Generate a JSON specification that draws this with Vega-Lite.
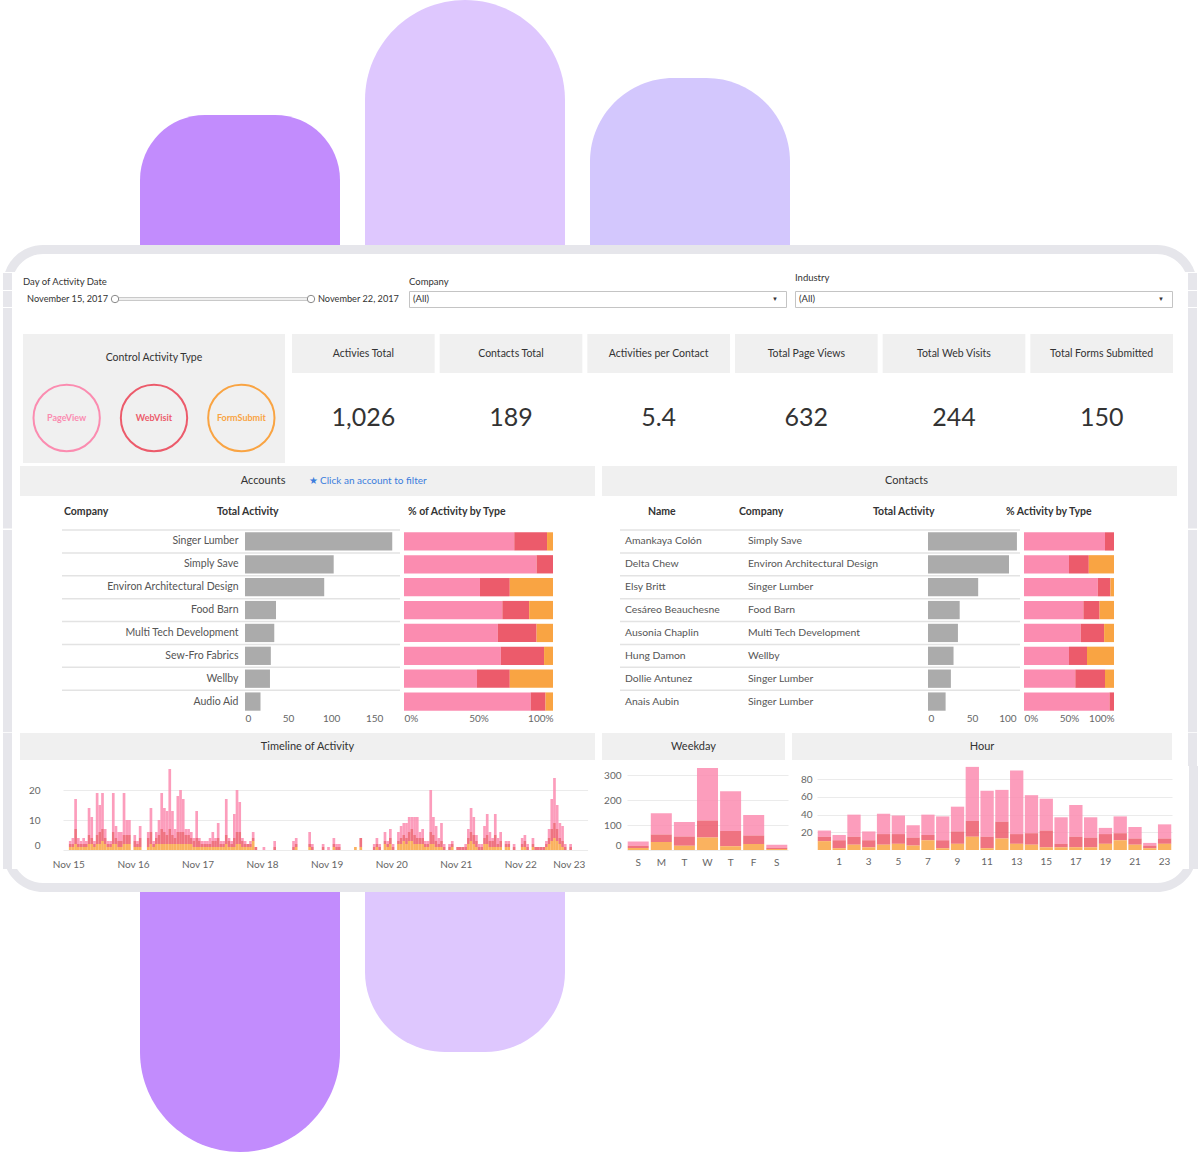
{
  "$schema": "https://vega.github.io/schema/vega-lite/v6.json",
  "padding": 0,
  "background": "white",
  "spacing": 0,
  "config": {
    "font": "Lato",
    "view": {"stroke": null},
    "axis": {"domain": false, "ticks": false, "labelFont": "Lato", "labelFontSize": 10, "labelColor": "#666", "gridColor": "#ebebeb"}
  },
  "datasets": {
    "blank": [{}],
    "card": [{"part": "card"}],
    "types": [
      {"code": "P", "type": "PageView", "k": 1},
      {"code": "W", "type": "WebVisit", "k": 2},
      {"code": "F", "type": "FormSubmit", "k": 3}
    ],
    "decoTop": [{"arch": "A", "h": 130}, {"arch": "B", "h": 245}, {"arch": "C", "h": 167}],
    "decoBottom": [{"arch": "A", "h": 260}, {"arch": "B", "h": 160}],
    "dateRange": [{"from": "2017/11/15", "to": "2017/11/22"}],
    "filters": [{"filter": "Company", "value": "(All)"}, {"filter": "Industry", "value": "(All)"}],
    "kpis": [
      {"label": "Activies Total", "value": 1026},
      {"label": "Contacts Total", "value": 189},
      {"label": "Activities per Contact", "value": 5.4},
      {"label": "Total Page Views", "value": 632},
      {"label": "Total Web Visits", "value": 244},
      {"label": "Total Forms Submitted", "value": 150}
    ],
    "accounts": [
      {"company": "Singer Lumber", "total": 171, "P": 74, "W": 22, "F": 4},
      {"company": "Simply Save", "total": 103, "P": 89, "W": 11, "F": 0},
      {"company": "Environ Architectural Design", "total": 92, "P": 51, "W": 20, "F": 29},
      {"company": "Food Barn", "total": 36, "P": 66, "W": 18, "F": 16},
      {"company": "Multi Tech Development", "total": 34, "P": 63, "W": 26, "F": 11},
      {"company": "Sew-Fro Fabrics", "total": 30, "P": 65, "W": 29, "F": 6},
      {"company": "Wellby", "total": 29, "P": 49, "W": 22, "F": 29},
      {"company": "Audio Aid", "total": 18, "P": 85, "W": 10, "F": 5}
    ],
    "contacts": [
      {"name": "Amankaya Colón", "company": "Simply Save", "total": 101, "P": 90, "W": 10, "F": 0},
      {"name": "Delta Chew", "company": "Environ Architectural Design", "total": 92, "P": 50, "W": 22, "F": 28},
      {"name": "Elsy Britt", "company": "Singer Lumber", "total": 57, "P": 82, "W": 14, "F": 4},
      {"name": "Cesáreo Beauchesne", "company": "Food Barn", "total": 36, "P": 66, "W": 18, "F": 16},
      {"name": "Ausonia Chaplin", "company": "Multi Tech Development", "total": 34, "P": 63, "W": 26, "F": 11},
      {"name": "Hung Damon", "company": "Wellby", "total": 29, "P": 50, "W": 20, "F": 30},
      {"name": "Dollie Antunez", "company": "Singer Lumber", "total": 26, "P": 57, "W": 33, "F": 10},
      {"name": "Anais Aubin", "company": "Singer Lumber", "total": 20, "P": 95, "W": 5, "F": 0}
    ],
    "weekday": [
      {"day": "Sun", "P": 17, "W": 9, "F": 8},
      {"day": "Mon", "P": 85, "W": 30, "F": 32},
      {"day": "Tue", "P": 58, "W": 37, "F": 17},
      {"day": "Wed", "P": 210, "W": 68, "F": 50},
      {"day": "Thu", "P": 159, "W": 61, "F": 15},
      {"day": "Fri", "P": 82, "W": 34, "F": 24},
      {"day": "Sat", "P": 12, "W": 5, "F": 4}
    ],
    "hour": [
      {"hour": 0, "P": 7, "W": 5, "F": 10}, {"hour": 1, "P": 6, "W": 9, "F": 2},
      {"hour": 2, "P": 25, "W": 9, "F": 6}, {"hour": 3, "P": 10, "W": 8, "F": 3},
      {"hour": 4, "P": 23, "W": 12, "F": 6}, {"hour": 5, "P": 21, "W": 11, "F": 7},
      {"hour": 6, "P": 14, "W": 9, "F": 5}, {"hour": 7, "P": 23, "W": 6, "F": 11},
      {"hour": 8, "P": 27, "W": 9, "F": 2}, {"hour": 9, "P": 28, "W": 14, "F": 7},
      {"hour": 10, "P": 61, "W": 18, "F": 15}, {"hour": 11, "P": 52, "W": 13, "F": 2},
      {"hour": 12, "P": 36, "W": 19, "F": 13}, {"hour": 13, "P": 72, "W": 11, "F": 7},
      {"hour": 14, "P": 43, "W": 13, "F": 6}, {"hour": 15, "P": 36, "W": 19, "F": 3},
      {"hour": 16, "P": 30, "W": 4, "F": 3}, {"hour": 17, "P": 36, "W": 12, "F": 3},
      {"hour": 18, "P": 23, "W": 11, "F": 3}, {"hour": 19, "P": 7, "W": 11, "F": 7},
      {"hour": 20, "P": 19, "W": 8, "F": 11}, {"hour": 21, "P": 13, "W": 7, "F": 6},
      {"hour": 22, "P": 3, "W": 3, "F": 2}, {"hour": 23, "P": 16, "W": 6, "F": 7}
    ],
    "timeline": [
      {"t": "2017/11/15 00:00", "P": 1, "W": 1, "F": 1},
      {"t": "2017/11/15 01:00", "P": 2, "W": 1, "F": 1},
      {"t": "2017/11/15 02:00", "P": 10, "W": 5, "F": 2},
      {"t": "2017/11/15 03:00", "P": 2, "W": 1, "F": 1},
      {"t": "2017/11/15 04:00", "P": 1, "W": 1, "F": 1},
      {"t": "2017/11/15 05:00", "P": 2, "W": 1, "F": 1},
      {"t": "2017/11/15 06:00", "P": 1, "W": 1, "F": 1},
      {"t": "2017/11/15 07:00", "P": 9, "W": 3, "F": 2},
      {"t": "2017/11/15 08:00", "P": 7, "W": 2, "F": 2},
      {"t": "2017/11/15 09:00", "P": 1, "W": 1, "F": 1},
      {"t": "2017/11/15 10:00", "P": 14, "W": 3, "F": 2},
      {"t": "2017/11/15 11:00", "P": 9, "W": 4, "F": 2},
      {"t": "2017/11/15 12:00", "P": 12, "W": 4, "F": 3},
      {"t": "2017/11/15 13:00", "P": 3, "W": 2, "F": 2},
      {"t": "2017/11/15 14:00", "P": 1, "W": 1, "F": 1},
      {"t": "2017/11/15 15:00", "P": 1, "W": 1, "F": 1},
      {"t": "2017/11/15 16:00", "P": 13, "W": 4, "F": 2},
      {"t": "2017/11/15 17:00", "P": 4, "W": 2, "F": 2},
      {"t": "2017/11/15 18:00", "P": 3, "W": 2, "F": 1},
      {"t": "2017/11/15 19:00", "P": 3, "W": 2, "F": 1},
      {"t": "2017/11/15 20:00", "P": 14, "W": 3, "F": 2},
      {"t": "2017/11/15 21:00", "P": 5, "W": 3, "F": 2},
      {"t": "2017/11/15 22:00", "P": 5, "W": 3, "F": 2},
      {"t": "2017/11/16 00:00", "P": 2, "W": 2, "F": 1},
      {"t": "2017/11/16 01:00", "P": 1, "W": 1, "F": 1},
      {"t": "2017/11/16 02:00", "P": 4, "W": 3, "F": 1},
      {"t": "2017/11/16 05:00", "P": 2, "W": 3, "F": 1},
      {"t": "2017/11/16 06:00", "P": 8, "W": 4, "F": 2},
      {"t": "2017/11/16 07:00", "P": 1, "W": 1, "F": 1},
      {"t": "2017/11/16 08:00", "P": 2, "W": 2, "F": 2},
      {"t": "2017/11/16 09:00", "P": 5, "W": 3, "F": 2},
      {"t": "2017/11/16 10:00", "P": 12, "W": 5, "F": 2},
      {"t": "2017/11/16 11:00", "P": 8, "W": 4, "F": 2},
      {"t": "2017/11/16 12:00", "P": 8, "W": 3, "F": 2},
      {"t": "2017/11/16 13:00", "P": 20, "W": 5, "F": 2},
      {"t": "2017/11/16 14:00", "P": 8, "W": 3, "F": 2},
      {"t": "2017/11/16 15:00", "P": 3, "W": 2, "F": 2},
      {"t": "2017/11/16 16:00", "P": 12, "W": 4, "F": 2},
      {"t": "2017/11/16 17:00", "P": 14, "W": 4, "F": 2},
      {"t": "2017/11/16 18:00", "P": 11, "W": 4, "F": 2},
      {"t": "2017/11/16 19:00", "P": 2, "W": 3, "F": 2},
      {"t": "2017/11/16 20:00", "P": 2, "W": 3, "F": 2},
      {"t": "2017/11/16 21:00", "P": 2, "W": 2, "F": 2},
      {"t": "2017/11/16 22:00", "P": 1, "W": 2, "F": 1},
      {"t": "2017/11/16 23:00", "P": 9, "W": 3, "F": 1},
      {"t": "2017/11/17 00:00", "P": 1, "W": 2, "F": 1},
      {"t": "2017/11/17 01:00", "P": 1, "W": 1, "F": 1},
      {"t": "2017/11/17 02:00", "P": 1, "W": 1, "F": 1},
      {"t": "2017/11/17 03:00", "P": 1, "W": 1, "F": 1},
      {"t": "2017/11/17 04:00", "P": 2, "W": 1, "F": 1},
      {"t": "2017/11/17 05:00", "P": 3, "W": 2, "F": 1},
      {"t": "2017/11/17 06:00", "P": 1, "W": 2, "F": 1},
      {"t": "2017/11/17 07:00", "P": 5, "W": 3, "F": 1},
      {"t": "2017/11/17 08:00", "P": 1, "W": 1, "F": 1},
      {"t": "2017/11/17 09:00", "P": 1, "W": 1, "F": 1},
      {"t": "2017/11/17 10:00", "P": 12, "W": 3, "F": 2},
      {"t": "2017/11/17 11:00", "P": 1, "W": 2, "F": 1},
      {"t": "2017/11/17 12:00", "P": 1, "W": 1, "F": 1},
      {"t": "2017/11/17 13:00", "P": 8, "W": 3, "F": 1},
      {"t": "2017/11/17 14:00", "P": 14, "W": 4, "F": 2},
      {"t": "2017/11/17 15:00", "P": 10, "W": 4, "F": 2},
      {"t": "2017/11/17 16:00", "P": 1, "W": 2, "F": 1},
      {"t": "2017/11/17 17:00", "P": 1, "W": 1, "F": 1},
      {"t": "2017/11/17 18:00", "P": 0, "W": 1, "F": 1},
      {"t": "2017/11/17 19:00", "P": 1, "W": 1, "F": 1},
      {"t": "2017/11/17 20:00", "P": 2, "W": 1, "F": 3},
      {"t": "2017/11/17 21:00", "P": 0, "W": 1, "F": 0},
      {"t": "2017/11/18 00:00", "P": 1, "W": 0, "F": 0},
      {"t": "2017/11/18 04:00", "P": 2, "W": 1, "F": 0},
      {"t": "2017/11/18 11:00", "P": 2, "W": 1, "F": 0},
      {"t": "2017/11/18 12:00", "P": 2, "W": 1, "F": 1},
      {"t": "2017/11/18 17:00", "P": 4, "W": 1, "F": 1},
      {"t": "2017/11/18 18:00", "P": 1, "W": 1, "F": 0},
      {"t": "2017/11/18 22:00", "P": 1, "W": 1, "F": 0},
      {"t": "2017/11/19 00:00", "P": 1, "W": 0, "F": 0},
      {"t": "2017/11/19 02:00", "P": 2, "W": 1, "F": 1},
      {"t": "2017/11/19 03:00", "P": 1, "W": 1, "F": 0},
      {"t": "2017/11/19 04:00", "P": 1, "W": 1, "F": 0},
      {"t": "2017/11/19 10:00", "P": 0, "W": 0, "F": 1},
      {"t": "2017/11/19 12:00", "P": 0, "W": 3, "F": 1},
      {"t": "2017/11/19 17:00", "P": 1, "W": 1, "F": 0},
      {"t": "2017/11/19 18:00", "P": 2, "W": 1, "F": 1},
      {"t": "2017/11/19 19:00", "P": 1, "W": 1, "F": 0},
      {"t": "2017/11/19 21:00", "P": 3, "W": 1, "F": 2},
      {"t": "2017/11/19 22:00", "P": 1, "W": 1, "F": 1},
      {"t": "2017/11/19 23:00", "P": 3, "W": 2, "F": 2},
      {"t": "2017/11/20 00:00", "P": 1, "W": 1, "F": 0},
      {"t": "2017/11/20 02:00", "P": 3, "W": 1, "F": 2},
      {"t": "2017/11/20 03:00", "P": 4, "W": 2, "F": 2},
      {"t": "2017/11/20 04:00", "P": 4, "W": 2, "F": 3},
      {"t": "2017/11/20 05:00", "P": 5, "W": 2, "F": 2},
      {"t": "2017/11/20 06:00", "P": 5, "W": 3, "F": 3},
      {"t": "2017/11/20 07:00", "P": 4, "W": 4, "F": 3},
      {"t": "2017/11/20 08:00", "P": 6, "W": 3, "F": 2},
      {"t": "2017/11/20 09:00", "P": 7, "W": 2, "F": 2},
      {"t": "2017/11/20 10:00", "P": 2, "W": 2, "F": 2},
      {"t": "2017/11/20 11:00", "P": 3, "W": 2, "F": 2},
      {"t": "2017/11/20 12:00", "P": 1, "W": 1, "F": 1},
      {"t": "2017/11/20 13:00", "P": 1, "W": 1, "F": 1},
      {"t": "2017/11/20 14:00", "P": 14, "W": 4, "F": 2},
      {"t": "2017/11/20 15:00", "P": 6, "W": 3, "F": 2},
      {"t": "2017/11/20 16:00", "P": 5, "W": 2, "F": 1},
      {"t": "2017/11/20 17:00", "P": 2, "W": 1, "F": 1},
      {"t": "2017/11/20 18:00", "P": 6, "W": 2, "F": 1},
      {"t": "2017/11/20 19:00", "P": 1, "W": 1, "F": 0},
      {"t": "2017/11/20 21:00", "P": 1, "W": 1, "F": 0},
      {"t": "2017/11/20 22:00", "P": 1, "W": 1, "F": 1},
      {"t": "2017/11/21 00:00", "P": 0, "W": 1, "F": 0},
      {"t": "2017/11/21 01:00", "P": 0, "W": 1, "F": 0},
      {"t": "2017/11/21 02:00", "P": 0, "W": 1, "F": 0},
      {"t": "2017/11/21 03:00", "P": 1, "W": 1, "F": 0},
      {"t": "2017/11/21 04:00", "P": 3, "W": 2, "F": 2},
      {"t": "2017/11/21 05:00", "P": 8, "W": 3, "F": 3},
      {"t": "2017/11/21 06:00", "P": 6, "W": 3, "F": 2},
      {"t": "2017/11/21 07:00", "P": 2, "W": 2, "F": 1},
      {"t": "2017/11/21 08:00", "P": 1, "W": 1, "F": 0},
      {"t": "2017/11/21 09:00", "P": 1, "W": 1, "F": 0},
      {"t": "2017/11/21 10:00", "P": 4, "W": 2, "F": 2},
      {"t": "2017/11/21 11:00", "P": 7, "W": 3, "F": 2},
      {"t": "2017/11/21 12:00", "P": 3, "W": 2, "F": 1},
      {"t": "2017/11/21 13:00", "P": 1, "W": 2, "F": 1},
      {"t": "2017/11/21 14:00", "P": 7, "W": 4, "F": 1},
      {"t": "2017/11/21 15:00", "P": 2, "W": 1, "F": 1},
      {"t": "2017/11/21 16:00", "P": 3, "W": 2, "F": 1},
      {"t": "2017/11/21 18:00", "P": 1, "W": 1, "F": 1},
      {"t": "2017/11/21 19:00", "P": 1, "W": 1, "F": 1},
      {"t": "2017/11/21 21:00", "P": 1, "W": 1, "F": 0},
      {"t": "2017/11/22 00:00", "P": 2, "W": 1, "F": 1},
      {"t": "2017/11/22 01:00", "P": 2, "W": 2, "F": 1},
      {"t": "2017/11/22 02:00", "P": 1, "W": 1, "F": 0},
      {"t": "2017/11/22 04:00", "P": 2, "W": 1, "F": 1},
      {"t": "2017/11/22 05:00", "P": 0, "W": 1, "F": 0},
      {"t": "2017/11/22 06:00", "P": 0, "W": 1, "F": 0},
      {"t": "2017/11/22 07:00", "P": 0, "W": 1, "F": 0},
      {"t": "2017/11/22 08:00", "P": 0, "W": 1, "F": 0},
      {"t": "2017/11/22 09:00", "P": 1, "W": 1, "F": 1},
      {"t": "2017/11/22 10:00", "P": 3, "W": 2, "F": 2},
      {"t": "2017/11/22 11:00", "P": 10, "W": 4, "F": 3},
      {"t": "2017/11/22 12:00", "P": 15, "W": 5, "F": 4},
      {"t": "2017/11/22 13:00", "P": 8, "W": 4, "F": 3},
      {"t": "2017/11/22 14:00", "P": 5, "W": 2, "F": 2},
      {"t": "2017/11/22 15:00", "P": 5, "W": 2, "F": 1},
      {"t": "2017/11/22 16:00", "P": 1, "W": 1, "F": 0},
      {"t": "2017/11/22 18:00", "P": 1, "W": 1, "F": 0}
    ]
  },
  "vconcat": [
    {
      "width": 1200, "height": 272,
      "resolve": {"scale": {"x": "independent"}},
      "layer": [
        {
          "data": {"name": "decoTop"},
          "mark": {"type": "bar", "cornerRadiusTopLeft": 100, "cornerRadiusTopRight": 100},
          "encoding": {
            "x": {"field": "arch", "type": "nominal", "axis": null, "scale": {"domain": ["A", "B", "C"], "range": [140, 790], "paddingInner": 0.1111, "paddingOuter": 0}},
            "y": {"field": "h", "type": "quantitative", "axis": null, "scale": {"domain": [-27, 245], "nice": false}},
            "fill": {"field": "arch", "type": "nominal", "legend": null, "scale": {"domain": ["A", "B", "C"], "range": ["#c28cfd", "#dec7fe", "#d3c7fd"]}}
          }
        },
        {
          "data": {"name": "card"},
          "mark": {"type": "rect", "color": "#e6e6eb", "cornerRadiusTopLeft": 40, "cornerRadiusTopRight": 40, "clip": true},
          "encoding": {
            "x": {"field": "part", "type": "nominal", "axis": null, "scale": {"type": "band", "paddingInner": 0, "paddingOuter": 0.0025126}},
            "y": {"datum": 0, "type": "quantitative"},
            "y2": {"datum": -80}
          }
        },
        {
          "data": {"name": "card"},
          "mark": {"type": "rect", "color": "white", "cornerRadiusTopLeft": 31, "cornerRadiusTopRight": 31, "clip": true},
          "encoding": {
            "x": {"field": "part", "type": "nominal", "axis": null, "scale": {"type": "band", "paddingInner": 0, "paddingOuter": 0.010204}},
            "y": {"datum": -9, "type": "quantitative"},
            "y2": {"datum": -80}
          }
        }
      ]
    },
    {
      "hconcat": [
        {"width": 3, "height": 1, "data": {"name": "blank"}, "mark": {"type": "point", "size": 0, "strokeWidth": 0, "opacity": 0}},
        {"width": 9, "height": 17, "view": {"fill": "#e6e6eb"}, "data": {"name": "blank"}, "mark": {"type": "point", "size": 0, "strokeWidth": 0, "opacity": 0}},
        {"width": 11, "height": 1, "data": {"name": "blank"}, "mark": {"type": "point", "size": 0, "strokeWidth": 0, "opacity": 0}},
        {"width": 386, "height": 17, "data": {"name": "blank"}, "mark": {"type": "text", "text": "Day of Activity Date", "align": "left", "fontSize": 9.5, "color": "#333"}, "encoding": {"x": {"value": 0}}},
        {"width": 386, "height": 17, "data": {"name": "blank"}, "mark": {"type": "text", "text": "Company", "align": "left", "fontSize": 9.5, "color": "#333"}, "encoding": {"x": {"value": 0}}},
        {"width": 377, "height": 17, "data": {"name": "blank"}, "mark": {"type": "text", "text": "Industry", "align": "left", "fontSize": 9.5, "color": "#333", "dy": -4}, "encoding": {"x": {"value": 0}}},
        {"width": 16, "height": 1, "data": {"name": "blank"}, "mark": {"type": "point", "size": 0, "strokeWidth": 0, "opacity": 0}},
        {"width": 9, "height": 17, "view": {"fill": "#e6e6eb"}, "data": {"name": "blank"}, "mark": {"type": "point", "size": 0, "strokeWidth": 0, "opacity": 0}}
      ],
      "spacing": 0, "bounds": "flush"
    },
    {
      "hconcat": [
        {"width": 3, "height": 1, "data": {"name": "blank"}, "mark": {"type": "point", "size": 0, "strokeWidth": 0, "opacity": 0}},
        {"width": 9, "height": 16, "view": {"fill": "#e6e6eb"}, "data": {"name": "blank"}, "mark": {"type": "point", "size": 0, "strokeWidth": 0, "opacity": 0}},
        {"width": 11, "height": 1, "data": {"name": "blank"}, "mark": {"type": "point", "size": 0, "strokeWidth": 0, "opacity": 0}},
        {
          "width": 377, "height": 16,
          "data": {"name": "dateRange"},
          "layer": [
            {"mark": {"type": "rule", "color": "#c9c9c9", "strokeWidth": 4},
             "encoding": {"x": {"field": "from", "type": "temporal", "axis": null, "scale": {"range": [92, 288]}}, "x2": {"field": "to"}}},
            {"mark": {"type": "rule", "color": "#efefef", "strokeWidth": 2},
             "encoding": {"x": {"field": "from", "type": "temporal", "axis": null}, "x2": {"field": "to"}}},
            {"mark": {"type": "point", "shape": "circle", "filled": true, "color": "white", "stroke": "#8a8a8a", "strokeWidth": 1, "size": 55, "opacity": 1},
             "encoding": {"x": {"field": "from", "type": "temporal", "axis": null}}},
            {"mark": {"type": "point", "shape": "circle", "filled": true, "color": "white", "stroke": "#8a8a8a", "strokeWidth": 1, "size": 55, "opacity": 1},
             "encoding": {"x": {"field": "to", "type": "temporal", "axis": null}}},
            {"mark": {"type": "text", "align": "right", "dx": -7, "fontSize": 9.2, "color": "#333"},
             "encoding": {"x": {"field": "from", "type": "temporal", "axis": null}, "text": {"field": "from", "type": "temporal", "format": "%B %d, %Y"}}},
            {"mark": {"type": "text", "align": "left", "dx": 7, "fontSize": 9.2, "color": "#333"},
             "encoding": {"x": {"field": "to", "type": "temporal", "axis": null}, "text": {"field": "to", "type": "temporal", "format": "%B %d, %Y"}}}
          ]
        },
        {"width": 9, "height": 1, "data": {"name": "blank"}, "mark": {"type": "point", "size": 0, "strokeWidth": 0, "opacity": 0}},
        {
          "width": 377, "height": 16,
          "view": {"stroke": "#c4c4c4", "fill": "white"},
          "data": {"name": "filters"},
          "transform": [{"filter": "datum.filter == 'Company'"}],
          "layer": [
            {"mark": {"type": "text", "align": "left", "dx": 4, "fontSize": 9.5, "color": "#333"},
             "encoding": {"x": {"datum": 0, "type": "quantitative", "axis": null, "scale": {"domain": [0, 1]}}, "text": {"field": "value"}}},
            {"mark": {"type": "text", "align": "right", "dx": -8, "fontSize": 6, "color": "#333", "text": "▼"},
             "encoding": {"x": {"datum": 1, "type": "quantitative", "axis": null}}}
          ]
        },
        {"width": 9, "height": 1, "data": {"name": "blank"}, "mark": {"type": "point", "size": 0, "strokeWidth": 0, "opacity": 0}},
        {
          "width": 377, "height": 16,
          "view": {"stroke": "#c4c4c4", "fill": "white"},
          "data": {"name": "filters"},
          "transform": [{"filter": "datum.filter == 'Industry'"}],
          "layer": [
            {"mark": {"type": "text", "align": "left", "dx": 4, "fontSize": 9.5, "color": "#333"},
             "encoding": {"x": {"datum": 0, "type": "quantitative", "axis": null, "scale": {"domain": [0, 1]}}, "text": {"field": "value"}}},
            {"mark": {"type": "text", "align": "right", "dx": -8, "fontSize": 6, "color": "#333", "text": "▼"},
             "encoding": {"x": {"datum": 1, "type": "quantitative", "axis": null}}}
          ]
        },
        {"width": 16, "height": 1, "data": {"name": "blank"}, "mark": {"type": "point", "size": 0, "strokeWidth": 0, "opacity": 0}},
        {"width": 9, "height": 16, "view": {"fill": "#e6e6eb"}, "data": {"name": "blank"}, "mark": {"type": "point", "size": 0, "strokeWidth": 0, "opacity": 0}}
      ],
      "spacing": 0, "bounds": "flush"
    },
    {
      "hconcat": [
        {"width": 3, "height": 1, "data": {"name": "blank"}, "mark": {"type": "point", "size": 0, "strokeWidth": 0, "opacity": 0}},
        {"width": 9, "height": 26, "view": {"fill": "#e6e6eb"}, "data": {"name": "blank"}, "mark": {"type": "point", "size": 0, "strokeWidth": 0, "opacity": 0}},
        {"width": 1176, "height": 1, "data": {"name": "blank"}, "mark": {"type": "point", "size": 0, "strokeWidth": 0, "opacity": 0}},
        {"width": 9, "height": 26, "view": {"fill": "#e6e6eb"}, "data": {"name": "blank"}, "mark": {"type": "point", "size": 0, "strokeWidth": 0, "opacity": 0}}
      ],
      "spacing": 0, "bounds": "flush"
    },
    {
      "hconcat": [
        {"width": 3, "height": 1, "data": {"name": "blank"}, "mark": {"type": "point", "size": 0, "strokeWidth": 0, "opacity": 0}},
        {"width": 9, "height": 39, "view": {"fill": "#e6e6eb"}, "data": {"name": "blank"}, "mark": {"type": "point", "size": 0, "strokeWidth": 0, "opacity": 0}},
        {"width": 11, "height": 1, "data": {"name": "blank"}, "mark": {"type": "point", "size": 0, "strokeWidth": 0, "opacity": 0}},
        {"width": 262, "height": 39, "view": {"fill": "#f0f0f0"}, "data": {"name": "blank"},
         "mark": {"type": "text", "text": "Control Activity Type", "fontSize": 10.5, "color": "#333", "dy": 4}},
        {"width": 7, "height": 1, "data": {"name": "blank"}, "mark": {"type": "point", "size": 0, "strokeWidth": 0, "opacity": 0}},
        {
          "width": 881, "height": 39, "data": {"name": "kpis"},
          "layer": [
            {"mark": {"type": "rect", "color": "#f0f0f0"},
             "encoding": {"x": {"field": "label", "type": "nominal", "sort": null, "axis": null, "scale": {"type": "band", "paddingInner": 0.0339, "paddingOuter": 0}}}},
            {"mark": {"type": "text", "fontSize": 10.5, "color": "#333"},
             "encoding": {"x": {"field": "label", "type": "nominal", "sort": null, "axis": null}, "text": {"field": "label"}}}
          ]
        },
        {"width": 15, "height": 1, "data": {"name": "blank"}, "mark": {"type": "point", "size": 0, "strokeWidth": 0, "opacity": 0}},
        {"width": 9, "height": 39, "view": {"fill": "#e6e6eb"}, "data": {"name": "blank"}, "mark": {"type": "point", "size": 0, "strokeWidth": 0, "opacity": 0}}
      ],
      "spacing": 0, "bounds": "flush"
    },
    {
      "hconcat": [
        {"width": 3, "height": 1, "data": {"name": "blank"}, "mark": {"type": "point", "size": 0, "strokeWidth": 0, "opacity": 0}},
        {"width": 9, "height": 90, "view": {"fill": "#e6e6eb"}, "data": {"name": "blank"}, "mark": {"type": "point", "size": 0, "strokeWidth": 0, "opacity": 0}},
        {"width": 11, "height": 1, "data": {"name": "blank"}, "mark": {"type": "point", "size": 0, "strokeWidth": 0, "opacity": 0}},
        {
          "width": 262, "height": 90, "view": {"fill": "#f0f0f0"},
          "data": {"name": "types"},
          "layer": [
            {"mark": {"type": "point", "shape": "circle", "filled": false, "size": 4400, "strokeWidth": 2, "opacity": 1},
             "encoding": {
               "x": {"field": "type", "type": "nominal", "sort": null, "axis": null, "scale": {"type": "band", "paddingInner": 0, "paddingOuter": 0}},
               "color": {"field": "type", "type": "nominal", "legend": null, "scale": {"domain": ["PageView", "WebVisit", "FormSubmit"], "range": ["#fb8cb0", "#ec5b6b", "#f9a443"]}}
             }},
            {"mark": {"type": "text", "fontSize": 9, "fontWeight": "bold"},
             "encoding": {
               "x": {"field": "type", "type": "nominal", "sort": null, "axis": null},
               "text": {"field": "type"},
               "color": {"field": "type", "type": "nominal", "legend": null, "scale": {"domain": ["PageView", "WebVisit", "FormSubmit"], "range": ["#fb8cb0", "#ec5b6b", "#f9a443"]}}
             }}
          ]
        },
        {"width": 7, "height": 1, "data": {"name": "blank"}, "mark": {"type": "point", "size": 0, "strokeWidth": 0, "opacity": 0}},
        {
          "width": 881, "height": 90, "data": {"name": "kpis"},
          "mark": {"type": "text", "fontSize": 25, "color": "#333"},
          "encoding": {
            "x": {"field": "label", "type": "nominal", "sort": null, "axis": null, "scale": {"type": "band", "paddingInner": 0.0339, "paddingOuter": 0}},
            "text": {"field": "value", "type": "quantitative", "format": ","}
          }
        },
        {"width": 15, "height": 1, "data": {"name": "blank"}, "mark": {"type": "point", "size": 0, "strokeWidth": 0, "opacity": 0}},
        {"width": 9, "height": 90, "view": {"fill": "#e6e6eb"}, "data": {"name": "blank"}, "mark": {"type": "point", "size": 0, "strokeWidth": 0, "opacity": 0}}
      ],
      "spacing": 0, "bounds": "flush"
    },
    {
      "hconcat": [
        {"width": 3, "height": 1, "data": {"name": "blank"}, "mark": {"type": "point", "size": 0, "strokeWidth": 0, "opacity": 0}},
        {"width": 9, "height": 3, "view": {"fill": "#e6e6eb"}, "data": {"name": "blank"}, "mark": {"type": "point", "size": 0, "strokeWidth": 0, "opacity": 0}},
        {"width": 1176, "height": 1, "data": {"name": "blank"}, "mark": {"type": "point", "size": 0, "strokeWidth": 0, "opacity": 0}},
        {"width": 9, "height": 3, "view": {"fill": "#e6e6eb"}, "data": {"name": "blank"}, "mark": {"type": "point", "size": 0, "strokeWidth": 0, "opacity": 0}}
      ],
      "spacing": 0, "bounds": "flush"
    },
    {
      "hconcat": [
        {"width": 3, "height": 1, "data": {"name": "blank"}, "mark": {"type": "point", "size": 0, "strokeWidth": 0, "opacity": 0}},
        {"width": 9, "height": 30, "view": {"fill": "#e6e6eb"}, "data": {"name": "blank"}, "mark": {"type": "point", "size": 0, "strokeWidth": 0, "opacity": 0}},
        {"width": 8, "height": 1, "data": {"name": "blank"}, "mark": {"type": "point", "size": 0, "strokeWidth": 0, "opacity": 0}},
        {"width": 575, "height": 30, "view": {"fill": "#f0f0f0"}, "data": {"name": "blank"},
         "layer": [
           {"mark": {"type": "text", "text": "Accounts", "align": "right", "dx": -22, "fontSize": 11, "color": "#333"}},
           {"mark": {"type": "text", "text": "★ Click an account to filter", "align": "left", "dx": 1, "fontSize": 10, "color": "#3b7ddd"}}
         ]},
        {"width": 7, "height": 1, "data": {"name": "blank"}, "mark": {"type": "point", "size": 0, "strokeWidth": 0, "opacity": 0}},
        {"width": 575, "height": 30, "view": {"fill": "#f0f0f0"}, "data": {"name": "blank"},
         "mark": {"type": "text", "text": "Contacts", "dx": 17, "fontSize": 11, "color": "#333"}},
        {"width": 11, "height": 1, "data": {"name": "blank"}, "mark": {"type": "point", "size": 0, "strokeWidth": 0, "opacity": 0}},
        {"width": 9, "height": 30, "view": {"fill": "#e6e6eb"}, "data": {"name": "blank"}, "mark": {"type": "point", "size": 0, "strokeWidth": 0, "opacity": 0}}
      ],
      "spacing": 0, "bounds": "flush"
    },
    {
      "hconcat": [
        {"width": 3, "height": 1, "data": {"name": "blank"}, "mark": {"type": "point", "size": 0, "strokeWidth": 0, "opacity": 0}},
        {"width": 9, "height": 32.5, "view": {"fill": "#e6e6eb"}, "data": {"name": "blank"}, "mark": {"type": "point", "size": 0, "strokeWidth": 0, "opacity": 0}},
        {"width": 52, "height": 1, "data": {"name": "blank"}, "mark": {"type": "point", "size": 0, "strokeWidth": 0, "opacity": 0}},
        {"width": 153, "height": 32.5, "data": {"name": "blank"}, "mark": {"type": "text", "text": "Company", "align": "left", "fontSize": 10.5, "fontWeight": "bold", "color": "#333"}, "encoding": {"x": {"value": 0}}},
        {"width": 191, "height": 32.5, "data": {"name": "blank"}, "mark": {"type": "text", "text": "Total Activity", "align": "left", "fontSize": 10.5, "fontWeight": "bold", "color": "#333"}, "encoding": {"x": {"value": 0}}},
        {"width": 240, "height": 32.5, "data": {"name": "blank"}, "mark": {"type": "text", "text": "% of Activity by Type", "align": "left", "fontSize": 10.5, "fontWeight": "bold", "color": "#333"}, "encoding": {"x": {"value": 0}}},
        {"width": 91, "height": 32.5, "data": {"name": "blank"}, "mark": {"type": "text", "text": "Name", "align": "left", "fontSize": 10.5, "fontWeight": "bold", "color": "#333"}, "encoding": {"x": {"value": 0}}},
        {"width": 134, "height": 32.5, "data": {"name": "blank"}, "mark": {"type": "text", "text": "Company", "align": "left", "fontSize": 10.5, "fontWeight": "bold", "color": "#333"}, "encoding": {"x": {"value": 0}}},
        {"width": 133, "height": 32.5, "data": {"name": "blank"}, "mark": {"type": "text", "text": "Total Activity", "align": "left", "fontSize": 10.5, "fontWeight": "bold", "color": "#333"}, "encoding": {"x": {"value": 0}}},
        {"width": 100, "height": 32.5, "data": {"name": "blank"}, "mark": {"type": "text", "text": "% Activity by Type", "align": "left", "fontSize": 10.5, "fontWeight": "bold", "color": "#333"}, "encoding": {"x": {"value": 0}}},
        {"width": 82, "height": 1, "data": {"name": "blank"}, "mark": {"type": "point", "size": 0, "strokeWidth": 0, "opacity": 0}},
        {"width": 9, "height": 32.5, "view": {"fill": "#e6e6eb"}, "data": {"name": "blank"}, "mark": {"type": "point", "size": 0, "strokeWidth": 0, "opacity": 0}}
      ],
      "spacing": 0, "bounds": "flush"
    },
    {
      "hconcat": [
        {"width": 3, "height": 1, "data": {"name": "blank"}, "mark": {"type": "point", "size": 0, "strokeWidth": 0, "opacity": 0}},
        {"width": 9, "height": 196, "view": {"fill": "#e6e6eb"}, "data": {"name": "blank"}, "mark": {"type": "point", "size": 0, "strokeWidth": 0, "opacity": 0}},
        {"width": 50, "height": 1, "data": {"name": "blank"}, "mark": {"type": "point", "size": 0, "strokeWidth": 0, "opacity": 0}},
        {
          "width": 183, "height": 183, "data": {"name": "accounts"},
          "mark": {"type": "rule", "color": "#e3e3e3", "strokeWidth": 1.5},
          "encoding": {"y": {"field": "company", "type": "nominal", "sort": null, "bandPosition": 0, "axis": null, "scale": {"type": "band", "paddingInner": 0, "paddingOuter": 0}}}
        },
        {
          "width": 155, "height": 183, "data": {"name": "accounts"},
          "layer": [
            {"mark": {"type": "rule", "color": "#e3e3e3", "strokeWidth": 1.5},
             "encoding": {"y": {"field": "company", "type": "nominal", "sort": null, "bandPosition": 0, "scale": {"type": "band", "paddingInner": 0, "paddingOuter": 0},
                                "axis": {"title": null, "labelPadding": 7, "labelFontSize": 10.5, "labelColor": "#555", "labelLimit": 220}}}},
            {"mark": {"type": "bar", "color": "#ababab", "height": {"band": 0.8}},
             "encoding": {
               "y": {"field": "company", "type": "nominal", "sort": null, "axis": {"title": null, "labelPadding": 7, "labelFontSize": 10.5, "labelColor": "#555", "labelLimit": 220}},
               "x": {"field": "total", "type": "quantitative", "scale": {"domain": [0, 180], "nice": false}, "axis": {"title": null, "values": [0, 50, 100, 150], "grid": false, "labelPadding": 0}}
             }}
          ]
        },
        {"width": 4, "height": 1, "data": {"name": "blank"}, "mark": {"type": "point", "size": 0, "strokeWidth": 0, "opacity": 0}},
        {
          "width": 149, "height": 183, "data": {"name": "accounts"},
          "transform": [
            {"fold": ["P", "W", "F"], "as": ["code", "n"]},
            {"lookup": "code", "from": {"data": {"name": "types"}, "key": "code", "fields": ["type", "k"]}}
          ],
          "mark": {"type": "bar", "height": {"band": 0.8}},
          "encoding": {
            "y": {"field": "company", "type": "nominal", "sort": null, "axis": null, "scale": {"paddingInner": 0, "paddingOuter": 0}},
            "x": {"field": "n", "type": "quantitative", "stack": "normalize", "axis": {"title": null, "values": [0, 0.5, 1], "format": "%", "labelFlush": true, "grid": false, "labelPadding": 0}},
            "color": {"field": "type", "type": "nominal", "legend": null, "scale": {"domain": ["PageView", "WebVisit", "FormSubmit"], "range": ["#fb8cb0", "#ec5b6b", "#f9a443"]}},
            "order": {"field": "k", "type": "quantitative", "sort": "ascending"}
          }
        },
        {"width": 67, "height": 1, "data": {"name": "blank"}, "mark": {"type": "point", "size": 0, "strokeWidth": 0, "opacity": 0}},
        {
          "width": 115, "height": 183, "data": {"name": "contacts"},
          "layer": [
            {"mark": {"type": "rule", "color": "#e3e3e3", "strokeWidth": 1.5},
             "encoding": {"y": {"field": "name", "type": "nominal", "sort": null, "bandPosition": 0, "axis": null, "scale": {"type": "band", "paddingInner": 0, "paddingOuter": 0}}}},
            {"mark": {"type": "text", "align": "left", "dx": 5, "fontSize": 10.4, "color": "#555"},
             "encoding": {"y": {"field": "name", "type": "nominal", "sort": null, "axis": null}, "x": {"value": 0}, "text": {"field": "name"}}}
          ]
        },
        {
          "width": 193, "height": 183, "data": {"name": "contacts"},
          "layer": [
            {"mark": {"type": "rule", "color": "#e3e3e3", "strokeWidth": 1.5},
             "encoding": {"y": {"field": "name", "type": "nominal", "sort": null, "bandPosition": 0, "axis": null, "scale": {"type": "band", "paddingInner": 0, "paddingOuter": 0}}}},
            {"mark": {"type": "text", "align": "left", "dx": 13, "fontSize": 10.4, "color": "#555"},
             "encoding": {"y": {"field": "name", "type": "nominal", "sort": null, "axis": null}, "x": {"value": 0}, "text": {"field": "company"}}}
          ]
        },
        {
          "width": 92, "height": 183, "data": {"name": "contacts"},
          "layer": [
            {"mark": {"type": "rule", "color": "#e3e3e3", "strokeWidth": 1.5},
             "encoding": {"y": {"field": "name", "type": "nominal", "sort": null, "bandPosition": 0, "axis": null, "scale": {"type": "band", "paddingInner": 0, "paddingOuter": 0}}}},
            {"mark": {"type": "bar", "color": "#ababab", "height": {"band": 0.8}},
             "encoding": {
               "y": {"field": "name", "type": "nominal", "sort": null, "axis": null},
               "x": {"field": "total", "type": "quantitative", "scale": {"domain": [0, 104.5], "nice": false}, "axis": {"title": null, "values": [0, 50, 100], "grid": false, "labelFlush": 5, "labelPadding": 0}}
             }}
          ]
        },
        {"width": 4, "height": 1, "data": {"name": "blank"}, "mark": {"type": "point", "size": 0, "strokeWidth": 0, "opacity": 0}},
        {
          "width": 90, "height": 183, "data": {"name": "contacts"},
          "transform": [
            {"fold": ["P", "W", "F"], "as": ["code", "n"]},
            {"lookup": "code", "from": {"data": {"name": "types"}, "key": "code", "fields": ["type", "k"]}}
          ],
          "mark": {"type": "bar", "height": {"band": 0.8}},
          "encoding": {
            "y": {"field": "name", "type": "nominal", "sort": null, "axis": null, "scale": {"paddingInner": 0, "paddingOuter": 0}},
            "x": {"field": "n", "type": "quantitative", "stack": "normalize", "axis": {"title": null, "values": [0, 0.5, 1], "format": "%", "labelFlush": true, "grid": false, "labelPadding": 0}},
            "color": {"field": "type", "type": "nominal", "legend": null, "scale": {"domain": ["PageView", "WebVisit", "FormSubmit"], "range": ["#fb8cb0", "#ec5b6b", "#f9a443"]}},
            "order": {"field": "k", "type": "quantitative", "sort": "ascending"}
          }
        },
        {"width": 74, "height": 1, "data": {"name": "blank"}, "mark": {"type": "point", "size": 0, "strokeWidth": 0, "opacity": 0}},
        {"width": 9, "height": 196, "view": {"fill": "#e6e6eb"}, "data": {"name": "blank"}, "mark": {"type": "point", "size": 0, "strokeWidth": 0, "opacity": 0}}
      ],
      "spacing": 0, "bounds": "flush"
    },
    {
      "hconcat": [
        {"width": 3, "height": 1, "data": {"name": "blank"}, "mark": {"type": "point", "size": 0, "strokeWidth": 0, "opacity": 0}},
        {"width": 9, "height": 6.25, "view": {"fill": "#e6e6eb"}, "data": {"name": "blank"}, "mark": {"type": "point", "size": 0, "strokeWidth": 0, "opacity": 0}},
        {"width": 1176, "height": 1, "data": {"name": "blank"}, "mark": {"type": "point", "size": 0, "strokeWidth": 0, "opacity": 0}},
        {"width": 9, "height": 6.25, "view": {"fill": "#e6e6eb"}, "data": {"name": "blank"}, "mark": {"type": "point", "size": 0, "strokeWidth": 0, "opacity": 0}}
      ],
      "spacing": 0, "bounds": "flush"
    },
    {
      "hconcat": [
        {"width": 3, "height": 1, "data": {"name": "blank"}, "mark": {"type": "point", "size": 0, "strokeWidth": 0, "opacity": 0}},
        {"width": 9, "height": 27, "view": {"fill": "#e6e6eb"}, "data": {"name": "blank"}, "mark": {"type": "point", "size": 0, "strokeWidth": 0, "opacity": 0}},
        {"width": 8, "height": 1, "data": {"name": "blank"}, "mark": {"type": "point", "size": 0, "strokeWidth": 0, "opacity": 0}},
        {"width": 575, "height": 27, "view": {"fill": "#f0f0f0"}, "data": {"name": "blank"},
         "mark": {"type": "text", "text": "Timeline of Activity", "fontSize": 11, "color": "#333"}},
        {"width": 7, "height": 1, "data": {"name": "blank"}, "mark": {"type": "point", "size": 0, "strokeWidth": 0, "opacity": 0}},
        {"width": 183, "height": 27, "view": {"fill": "#f0f0f0"}, "data": {"name": "blank"},
         "mark": {"type": "text", "text": "Weekday", "fontSize": 11, "color": "#333"}},
        {"width": 7, "height": 1, "data": {"name": "blank"}, "mark": {"type": "point", "size": 0, "strokeWidth": 0, "opacity": 0}},
        {"width": 380, "height": 27, "view": {"fill": "#f0f0f0"}, "data": {"name": "blank"},
         "mark": {"type": "text", "text": "Hour", "fontSize": 11, "color": "#333"}},
        {"width": 16, "height": 1, "data": {"name": "blank"}, "mark": {"type": "point", "size": 0, "strokeWidth": 0, "opacity": 0}},
        {"width": 9, "height": 27, "view": {"fill": "#e6e6eb"}, "data": {"name": "blank"}, "mark": {"type": "point", "size": 0, "strokeWidth": 0, "opacity": 0}}
      ],
      "spacing": 0, "bounds": "flush"
    },
    {
      "hconcat": [
        {"width": 3, "height": 1, "data": {"name": "blank"}, "mark": {"type": "point", "size": 0, "strokeWidth": 0, "opacity": 0}},
        {"width": 9, "height": 6, "view": {"fill": "#e6e6eb"}, "data": {"name": "blank"}, "mark": {"type": "point", "size": 0, "strokeWidth": 0, "opacity": 0}},
        {"width": 1176, "height": 1, "data": {"name": "blank"}, "mark": {"type": "point", "size": 0, "strokeWidth": 0, "opacity": 0}},
        {"width": 9, "height": 6, "view": {"fill": "#e6e6eb"}, "data": {"name": "blank"}, "mark": {"type": "point", "size": 0, "strokeWidth": 0, "opacity": 0}}
      ],
      "spacing": 0, "bounds": "flush"
    },
    {
      "hconcat": [
        {"width": 3, "height": 1, "data": {"name": "blank"}, "mark": {"type": "point", "size": 0, "strokeWidth": 0, "opacity": 0}},
        {"width": 9, "height": 103, "view": {"fill": "#e6e6eb"}, "data": {"name": "blank"}, "mark": {"type": "point", "size": 0, "strokeWidth": 0, "opacity": 0}},
        {"width": 50.6, "height": 1, "data": {"name": "blank"}, "mark": {"type": "point", "size": 0, "strokeWidth": 0, "opacity": 0}},
        {
          "width": 524.6, "height": 84, "data": {"name": "timeline"},
          "transform": [
            {"fold": ["P", "W", "F"], "as": ["code", "n"]},
            {"lookup": "code", "from": {"data": {"name": "types"}, "key": "code", "fields": ["type", "k"]}}
          ],
          "mark": {"type": "bar", "opacity": 0.85, "binSpacing": 0},
          "encoding": {
            "x": {"field": "t", "type": "temporal", "timeUnit": "yearmonthdatehours",
                  "scale": {"domain": [{"year": 2017, "month": "nov", "date": 14, "hours": 22}, {"year": 2017, "month": "nov", "date": 23, "hours": 1}]},
                  "axis": {"title": null, "format": "%b %d", "labelFlush": 3, "labelPadding": 9, "grid": false,
                           "values": [{"year": 2017, "month": "nov", "date": 15}, {"year": 2017, "month": "nov", "date": 16}, {"year": 2017, "month": "nov", "date": 17}, {"year": 2017, "month": "nov", "date": 18}, {"year": 2017, "month": "nov", "date": 19}, {"year": 2017, "month": "nov", "date": 20}, {"year": 2017, "month": "nov", "date": 21}, {"year": 2017, "month": "nov", "date": 22}, {"year": 2017, "month": "nov", "date": 23}]}},
            "y": {"field": "n", "type": "quantitative", "stack": "zero", "scale": {"domain": [0, 28], "nice": false}, "axis": {"title": null, "values": [0, 10, 20], "grid": true, "labelPadding": 23, "labelFlush": true}},
            "color": {"field": "type", "type": "nominal", "legend": null, "scale": {"domain": ["PageView", "WebVisit", "FormSubmit"], "range": ["#fb8cb0", "#ec5b6b", "#f9a443"]}},
            "order": {"field": "k", "type": "quantitative", "sort": "descending"}
          }
        },
        {"width": 38.8, "height": 1, "data": {"name": "blank"}, "mark": {"type": "point", "size": 0, "strokeWidth": 0, "opacity": 0}},
        {
          "width": 161, "height": 84, "data": {"name": "weekday"},
          "transform": [
            {"fold": ["P", "W", "F"], "as": ["code", "n"]},
            {"lookup": "code", "from": {"data": {"name": "types"}, "key": "code", "fields": ["type", "k"]}}
          ],
          "mark": {"type": "bar", "opacity": 0.85},
          "encoding": {
            "x": {"field": "day", "type": "nominal", "sort": null, "scale": {"paddingInner": 0.09, "paddingOuter": 0.03}, "axis": {"title": null, "labelAngle": 0, "labelExpr": "substring(datum.label, 0, 1)", "labelPadding": 7}},
            "y": {"field": "n", "type": "quantitative", "stack": "zero", "scale": {"domain": [0, 336], "nice": false}, "axis": {"title": null, "values": [0, 100, 200, 300], "grid": true, "labelPadding": 6, "labelFlush": true}},
            "color": {"field": "type", "type": "nominal", "legend": null, "scale": {"domain": ["PageView", "WebVisit", "FormSubmit"], "range": ["#fb8cb0", "#ec5b6b", "#f9a443"]}},
            "order": {"field": "k", "type": "quantitative", "sort": "descending"}
          }
        },
        {"width": 29, "height": 1, "data": {"name": "blank"}, "mark": {"type": "point", "size": 0, "strokeWidth": 0, "opacity": 0}},
        {
          "width": 355, "height": 84, "data": {"name": "hour"},
          "transform": [
            {"fold": ["P", "W", "F"], "as": ["code", "n"]},
            {"lookup": "code", "from": {"data": {"name": "types"}, "key": "code", "fields": ["type", "k"]}}
          ],
          "mark": {"type": "bar", "opacity": 0.85},
          "encoding": {
            "x": {"field": "hour", "type": "ordinal", "scale": {"paddingInner": 0.1, "paddingOuter": 0.05}, "axis": {"title": null, "labelAngle": 0, "labelExpr": "datum.value % 2 == 1 ? datum.label : ''", "labelPadding": 6}},
            "y": {"field": "n", "type": "quantitative", "stack": "zero", "scale": {"domain": [0, 95], "nice": false}, "axis": {"title": null, "values": [20, 40, 60, 80], "grid": true, "labelPadding": 5}},
            "color": {"field": "type", "type": "nominal", "legend": null, "scale": {"domain": ["PageView", "WebVisit", "FormSubmit"], "range": ["#fb8cb0", "#ec5b6b", "#f9a443"]}},
            "order": {"field": "k", "type": "quantitative", "sort": "descending"}
          }
        },
        {"width": 17, "height": 1, "data": {"name": "blank"}, "mark": {"type": "point", "size": 0, "strokeWidth": 0, "opacity": 0}},
        {"width": 9, "height": 103, "view": {"fill": "#e6e6eb"}, "data": {"name": "blank"}, "mark": {"type": "point", "size": 0, "strokeWidth": 0, "opacity": 0}}
      ],
      "spacing": 0, "bounds": "flush"
    },
    {
      "width": 1200, "height": 23, "data": {"name": "card"},
      "resolve": {"scale": {"x": "independent"}},
      "layer": [
        {
          "mark": {"type": "rect", "color": "#e6e6eb", "cornerRadiusBottomLeft": 40, "cornerRadiusBottomRight": 40, "clip": true},
          "encoding": {
            "x": {"field": "part", "type": "nominal", "axis": null, "scale": {"type": "band", "paddingInner": 0, "paddingOuter": 0.0025126}},
            "y": {"datum": -57, "type": "quantitative", "axis": null, "scale": {"domain": [0, 23], "nice": false, "reverse": true}},
            "y2": {"datum": 23}
          }
        },
        {
          "mark": {"type": "rect", "color": "white", "cornerRadiusBottomLeft": 31, "cornerRadiusBottomRight": 31, "clip": true},
          "encoding": {
            "x": {"field": "part", "type": "nominal", "axis": null, "scale": {"type": "band", "paddingInner": 0, "paddingOuter": 0.010204}},
            "y": {"datum": -57, "type": "quantitative"},
            "y2": {"datum": 14}
          }
        }
      ]
    },
    {
      "width": 1200, "height": 262,
      "data": {"name": "decoBottom"},
      "mark": {"type": "bar", "cornerRadiusBottomLeft": 100, "cornerRadiusBottomRight": 100},
      "encoding": {
        "x": {"field": "arch", "type": "nominal", "axis": null, "scale": {"domain": ["A", "B", "C"], "range": [140, 790], "paddingInner": 0.1111, "paddingOuter": 0}},
        "y": {"field": "h", "type": "quantitative", "axis": null, "scale": {"domain": [0, 262], "nice": false, "reverse": true}},
        "fill": {"field": "arch", "type": "nominal", "legend": null, "scale": {"domain": ["A", "B", "C"], "range": ["#c28cfd", "#dec7fe", "#d3c7fd"]}}
      }
    }
  ]
}
